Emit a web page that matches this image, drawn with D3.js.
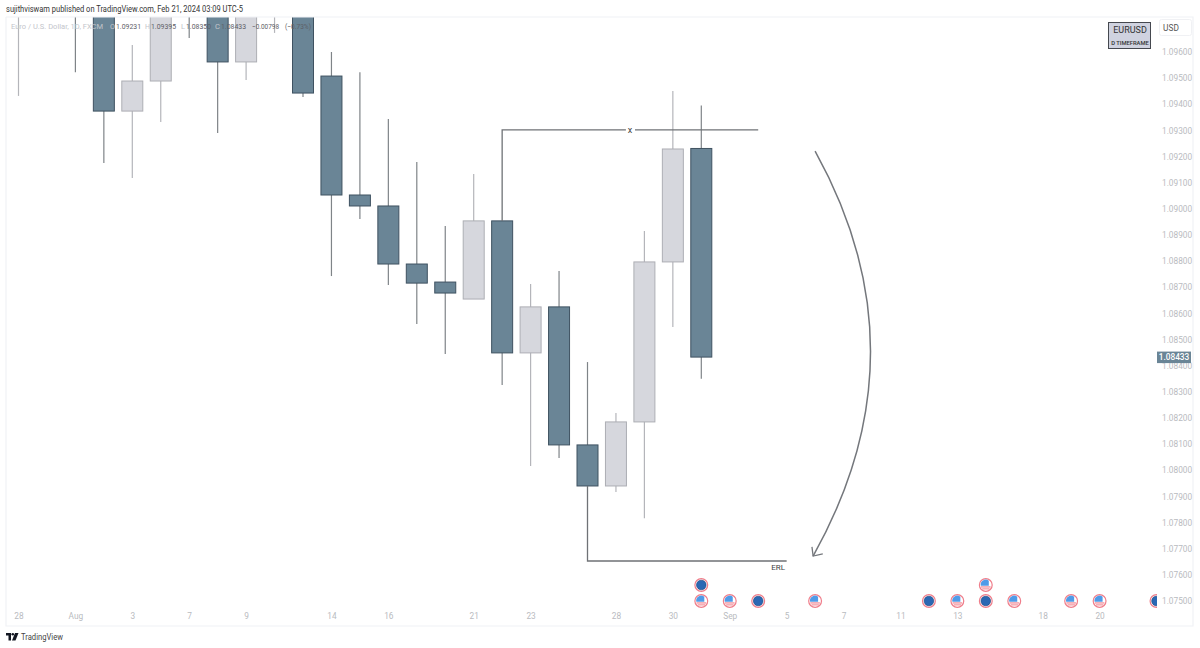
<html>
<head>
  <meta charset="utf-8">
  <style>
    body { margin: 0; background: #fff; }
    svg { display: block; font-family: Roboto, sans-serif; }
  </style>
</head>
<body>
  <svg></svg>
  <script src="https://d3js.org/d3.v7.min.js"></script>
  <script>
    let width = 1200, height = 648;

    // daily candles, index on the time axis. Values above about 1.0975 are off the top of the pane
    let candleIndex = [0, 2, 3, 4, 5, 6, 7, 8, 9, 10, 11, 12, 13, 14, 15, 16, 17, 18, 19, 20, 21, 22, 23, 24];
    let opens  = [1.0978, 1.0985, 1.0985, 1.09374, 1.09489, 1.0985, 1.0985, 1.09562, 1.0978, 1.0985, 1.09508, 1.09053, 1.09011, 1.08789, 1.08720, 1.08655, 1.08954, 1.08449, 1.08625, 1.08097, 1.07940, 1.08185, 1.08797, 1.09231];
    let closes = [1.0985, 1.0978, 1.09374, 1.09489, 1.0985, 1.0978, 1.09562, 1.0985, 1.0985, 1.09443, 1.09053, 1.09011, 1.08789, 1.08716, 1.08678, 1.08954, 1.08449, 1.08625, 1.08097, 1.07940, 1.08185, 1.08797, 1.09229, 1.08433];
    let highs  = [1.0990, 1.0990, 1.0990, 1.09627, 1.0990, 1.0990, 1.0990, 1.0990, 1.0990, 1.0990, 1.09600, 1.09523, 1.09344, 1.09179, 1.08934, 1.09133, 1.08954, 1.08713, 1.08762, 1.08414, 1.08219, 1.08915, 1.09451, 1.09395];
    let lows   = [1.09432, 1.09523, 1.09175, 1.09118, 1.09332, 1.09654, 1.09290, 1.09493, 1.09673, 1.09428, 1.08743, 1.08961, 1.08709, 1.08560, 1.08445, 1.08655, 1.08326, 1.08016, 1.08047, 1.07940, 1.07917, 1.07817, 1.08548, 1.08350];
    let lastPrice = 1.08433;

    let priceTicks = [1.096, 1.095, 1.094, 1.093, 1.092, 1.091, 1.09, 1.089, 1.088, 1.087, 1.086, 1.085, 1.084, 1.083, 1.082, 1.081, 1.08, 1.079, 1.078, 1.077, 1.076, 1.075];
    let timeTickIndex = [0, 2, 4, 6, 8, 11, 13, 16, 18, 21, 23, 25, 27, 29, 31, 33, 36, 38];
    let timeTickLabels = ["28", "Aug", "3", "7", "9", "14", "16", "21", "23", "28", "30", "Sep", "5", "7", "11", "13", "18", "20"];

    // economic calendar markers along the bottom
    let eventIndex = [24, 24, 25, 26, 28, 32, 33, 34, 34, 35, 37, 38, 40];
    let eventRow = [1, 0, 0, 0, 0, 0, 0, 0, 1, 0, 0, 0, 0];
    let eventType = ["eu", "us", "us", "eu", "us", "eu", "us", "eu", "us", "us", "us", "us", "eu"];

    let svg = d3.select("svg")
        .attr("width", width)
        .attr("height", height)
        .attr("viewBox", "0 0 " + width + " " + height);

    let pane = {left: 6, right: 1157, top: 17, bottom: 626, axisRight: 1193};

    let x = d3.scaleLinear().domain([0, 38]).range([18.5, 1099.6]);
    let y = d3.scaleLinear().domain([1.075, 1.096]).range([601, 52]);
    let candleW = 21;

    let dark = "#6a8596", darkEdge = "#3f5261", light = "#d6d7dd", lightEdge = "#adaeb4";

    svg.append("clipPath").attr("id", "pane")
      .append("rect")
        .attr("x", pane.left).attr("y", pane.top)
        .attr("width", pane.right - pane.left).attr("height", pane.bottom - pane.top);

    let chart = svg.append("g").attr("clip-path", "url(#pane)");

    let candles = candleIndex.map((d, i) => ({
      i: d, open: opens[i], close: closes[i], high: highs[i], low: lows[i], up: closes[i] > opens[i]
    }));

    // wicks
    chart.append("g").selectAll("line")
      .data(candles)
      .enter()
      .append("line")
        .attr("x1", d => x(d.i)).attr("x2", d => x(d.i))
        .attr("y1", d => y(d.high)).attr("y2", d => y(d.low))
        .attr("stroke", d => d.up ? "#b4b5ba" : "#7f8488")
        .attr("stroke-width", 1.2);

    // bodies
    chart.append("g").selectAll("rect")
      .data(candles)
      .enter()
      .append("rect")
        .attr("x", d => x(d.i) - candleW / 2)
        .attr("width", candleW)
        .attr("y", d => y(Math.max(d.open, d.close)))
        .attr("height", d => y(Math.min(d.open, d.close)) - y(Math.max(d.open, d.close)))
        .attr("fill", d => d.up ? light : dark)
        .attr("stroke", d => d.up ? lightEdge : darkEdge)
        .attr("stroke-width", 1);

    // hand drawn annotations, anchored on candles
    let drawn = "#6f7276";
    let annotations = chart.append("g").attr("fill", "none").attr("stroke", drawn).attr("stroke-width", 1.3);

    let xLevel = 1.09302, erlLevel = 1.07653;
    annotations.append("path").attr("d", d3.line()([
      [x(17), y(1.08954)], [x(17), y(xLevel)], [x(21.35), y(xLevel)]
    ]));
    annotations.append("path").attr("d", d3.line()([
      [x(21.67), y(xLevel)], [x(26), y(xLevel)]
    ]));
    annotations.append("path").attr("d", d3.line()([
      [x(20), y(1.0794)], [x(20), y(erlLevel)], [x(27), y(erlLevel)]
    ]));

    // the big arc with the arrow
    let arc = d3.path();
    arc.moveTo(x(28.0), y(1.09221));
    arc.quadraticCurveTo(x(31.93), y(1.08449), x(27.93), y(1.07672));
    annotations.append("path").attr("d", arc.toString()).attr("stroke", "#74777c").attr("stroke-width", 1.5);
    annotations.append("path").attr("stroke", "#74777c").attr("d", d3.line()([
      [x(27.89), y(1.07707)], [x(27.93), y(1.07672)], [x(28.27), y(1.0768)]
    ]));

    chart.append("text").attr("x", x(21.49)).attr("y", y(xLevel) + 3)
      .attr("text-anchor", "middle").attr("font-size", 9).attr("fill", "#444").text("x");
    chart.append("text").attr("x", x(26.7)).attr("y", y(erlLevel) + 9)
      .attr("text-anchor", "middle").attr("font-size", 8).attr("fill", "#444").text("ERL");

    // event badges
    let rowY = [601, 585];
    let badges = chart.append("g").selectAll("g")
      .data(eventIndex)
      .enter()
      .append("g")
        .attr("transform", (d, i) => "translate(" + x(d) + "," + rowY[eventRow[i]] + ")");

    badges.append("circle").attr("r", 6.4).attr("fill", "#fff")
      .attr("stroke", "#ef7d8a").attr("stroke-width", 1.2);
    badges.each(function (d, i) {
      let g = d3.select(this);
      if (eventType[i] == "eu") {
        g.append("circle").attr("r", 4.8).attr("fill", "#2a68b4").attr("stroke", "#1b3f75").attr("stroke-width", 0.6);
      } else {
        g.append("path").attr("d", "M-5,0.8 A5,5 0 0 1 3,-4.2 L3,0.8 Z").attr("fill", "#4f9be8");
        g.append("rect").attr("x", -4.8).attr("y", 1.4).attr("width", 9.6).attr("height", 1.1).attr("fill", "#ef7d8a");
        g.append("rect").attr("x", -3.6).attr("y", 3.4).attr("width", 7.4).attr("height", 1).attr("fill", "#ef7d8a");
      }
    });

    // frame
    let border = "#f0f2f6";
    svg.append("path").attr("fill", "none").attr("stroke", border).attr("stroke-width", 1.2)
      .attr("d", d3.line()([
        [pane.left, pane.top], [pane.axisRight, pane.top], [pane.axisRight, pane.bottom],
        [pane.left, pane.bottom], [pane.left, pane.top]
      ]));

    // axes
    let axisColor = "#b9bbc0";
    let yAxis = svg.append("g")
      .attr("transform", "translate(1162,0)")
      .call(d3.axisRight(y).tickValues(priceTicks).tickFormat(d3.format(".5f")).tickSize(0).tickPadding(0));
    yAxis.select(".domain").remove();
    yAxis.selectAll("text").attr("fill", axisColor).style("font-size", "8.3px").style("font-family", "Roboto, sans-serif");

    let xAxis = svg.append("g")
      .attr("transform", "translate(0,613)")
      .call(d3.axisBottom(x).tickValues(timeTickIndex).tickFormat((d, i) => timeTickLabels[i]).tickSize(0).tickPadding(0));
    xAxis.select(".domain").remove();
    xAxis.selectAll("text").attr("fill", axisColor).style("font-size", "8.3px").style("font-family", "Roboto, sans-serif");

    // last price tag
    let tag = svg.append("g").attr("transform", "translate(1157," + y(lastPrice) + ")");
    tag.append("rect").attr("x", 0).attr("y", -5.5).attr("width", 34).attr("height", 11.5).attr("fill", dark);
    tag.append("text").attr("x", 17).attr("y", 3.2).attr("text-anchor", "middle")
      .attr("font-size", 8.3).attr("fill", "#fff").attr("font-weight", 500).text(d3.format(".5f")(lastPrice));

    // USD button
    svg.append("rect").attr("x", 1159.5).attr("y", 19.5).attr("width", 32).attr("height", 16).attr("rx", 2)
      .attr("fill", "#fff").attr("stroke", "#f0f1f4");
    svg.append("text").attr("x", 1171).attr("y", 31).attr("text-anchor", "middle")
      .attr("font-size", 8.3).attr("fill", "#555").text("USD");

    // EURUSD note
    svg.append("rect").attr("x", 1108.5).attr("y", 22.5).attr("width", 42).attr("height", 26)
      .attr("fill", "#cfd2df").attr("stroke", "#45484f").attr("stroke-width", 1);
    svg.append("text").attr("x", 1130).attr("y", 33).attr("text-anchor", "middle")
      .attr("font-size", 9).attr("fill", "#333").text("EURUSD");
    svg.append("text").attr("x", 1130).attr("y", 45).attr("text-anchor", "middle")
      .attr("font-size", 5.8).attr("font-weight", 500).attr("fill", "#333").text("D TIMEFRAME");

    // publisher line and legend
    svg.append("text").attr("x", 6).attr("y", 12).attr("font-size", 8.3).attr("fill", "#333")
      .attr("textLength", 237).attr("lengthAdjust", "spacingAndGlyphs")
      .text("sujithviswam published on TradingView.com, Feb 21, 2024 03:09 UTC-5");

    let legendParts = [
      ["Euro / U.S. Dollar, 1D, FXCM", 11, "#c3c5cb", 92], ["O", 110, "#c3c5cb", 5], ["1.09231", 116, "#5e6066", 25],
      ["H", 145, "#c3c5cb", 5], ["1.09395", 151, "#5e6066", 25], ["L", 181, "#c3c5cb", 4], ["1.08350", 186, "#5e6066", 25],
      ["C", 215, "#c3c5cb", 5], ["1.08433", 221, "#5e6066", 25], ["\u22120.00798", 252, "#5e6066", 27], ["(\u22120.73%)", 285, "#5e6066", 26]
    ];
    svg.append("g").selectAll("text")
      .data(legendParts)
      .enter()
      .append("text")
        .attr("x", d => d[1]).attr("y", 29)
        .attr("font-size", 8).attr("fill", d => d[2])
        .attr("textLength", d => d[3]).attr("lengthAdjust", "spacingAndGlyphs")
        .text(d => d[0]);

    // footer logo
    let logo = svg.append("g").attr("transform", "translate(6,633)").attr("fill", "#131722");
    logo.append("path").attr("d", "M0,0 H5 V7.5 H2.5 V2.5 H0 Z");
    logo.append("circle").attr("cx", 6.8).attr("cy", 1.3).attr("r", 1.3);
    logo.append("path").attr("d", "M9,0 H12.5 L9.5,7.5 H6 Z");
    svg.append("text").attr("x", 21).attr("y", 640).attr("font-size", 8.6).attr("fill", "#444")
      .attr("textLength", 42).attr("lengthAdjust", "spacingAndGlyphs").text("TradingView");
  </script>
</body>
</html>
